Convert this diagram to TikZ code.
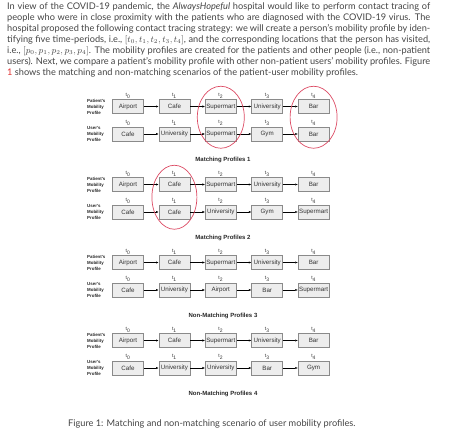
\documentclass[tikz,border=0pt]{standalone}
\usepackage{fontspec}
\setmainfont{Lato}
\newfontfamily\diagfont{Liberation Sans}
\usetikzlibrary{arrows.meta,positioning,calc}
\definecolor{ctext}{HTML}{444444}
\definecolor{chit}{HTML}{DC4A63}
\definecolor{cbox}{HTML}{EDEDED}
\definecolor{cedge}{HTML}{8A8A8A}
\definecolor{cref}{HTML}{E03030}
\tikzset{
  para/.style={anchor=base west, inner sep=0pt, text=ctext, font=\fontsize{9.2}{11}\selectfont},
  loc/.style={draw=cedge, fill=cbox, line width=0.5pt, minimum width=31pt, minimum height=14pt, inner sep=0.5pt, text=black!80, font=\diagfont\fontsize{6.2}{7}\selectfont},
  tlab/.style={inner sep=0pt, text=black!80, font=\diagfont\fontsize{5}{5}\selectfont},
  who/.style={anchor=west, align=left, inner sep=0pt, text=black!85, font=\diagfont\bfseries\fontsize{4.4}{6}\selectfont},
  paneltitle/.style={inner sep=0pt, text=black!85, font=\diagfont\bfseries\fontsize{6}{7}\selectfont},
  flow/.style={-{Latex[length=2.6pt,width=2.2pt]}, line width=0.45pt},
  hit/.style={draw=chit, line width=0.7pt},
}
\newcommand{\locrow}[4]{%
  \node[who] (#1who) at (87,#2+0.5) {#3};
  \foreach \p [count=\i from 0] in {#4}{
    \node[loc] (#1\i) at (128+46.4*\i,#2) {\p};
    \node[tlab, above=1pt of #1\i] (#1t\i) {t\textsubscript{\i}};
  }
  \foreach \i [count=\j] in {0,...,3}{\draw[flow] (#1\i) -- (#1\j);}
}
\begin{document}
\begin{tikzpicture}[x=1pt, y=-1pt]
\useasboundingbox (0,0) rectangle (474,431);
% text above the figure
\node[para] (l1) at (7,9.5) {\makebox[423pt][s]{In view of the COVID-19 pandemic, the \emph{AlwaysHopeful} hospital would like to perform contact tracing of}};
\node[para] (l2) at (7,20.5) {\makebox[423pt][s]{people who were in close proximity with the patients who are diagnosed with the COVID-19 virus. The}};
\node[para] (l3) at (7,31.5) {\makebox[423pt][s]{hospital proposed the following contact tracing strategy: we will create a person's mobility profile by iden-}};
\node[para] (l4) at (7,42.5) {\makebox[423pt][s]{tifying five time-periods, i.e., $[t_0,t_1,t_2,t_3,t_4]$, and the corresponding locations that the person has visited,}};
\node[para] (l5) at (7,53.5) {\makebox[423pt][s]{i.e., $[p_0,p_1,p_2,p_3,p_4]$. The mobility profiles are created for the patients and other people (i.e., non-patient}};
\node[para] (l6) at (7,64.5) {\makebox[423pt][s]{users). Next, we compare a patient's mobility profile with other non-patient users' mobility profiles. Figure}};
\node[para] (l7) at (7,75.5) {{\color{cref}1} shows the matching and non-matching scenarios of the patient-user mobility profiles.};
% the four panels
\locrow{pa}{106.5}{Patient's\\Mobility\\Profile}{Airport,Cafe,Supermart,University,Bar}
\locrow{ua}{134}{User's\\Mobility\\Profile}{Cafe,University,Supermart,Gym,Bar}
\node[paneltitle] (capa) at (223,160) {Matching Profiles 1};
\locrow{pb}{184.5}{Patient's\\Mobility\\Profile}{Airport,Cafe,Supermart,University,Bar}
\locrow{ub}{212}{User's\\Mobility\\Profile}{Cafe,Cafe,University,Gym,Supermart}
\node[paneltitle] (capb) at (223,238) {Matching Profiles 2};
\locrow{pc}{262.5}{Patient's\\Mobility\\Profile}{Airport,Cafe,Supermart,University,Bar}
\locrow{uc}{290}{User's\\Mobility\\Profile}{Cafe,University,Airport,Bar,Supermart}
\node[paneltitle] (capc) at (223,316) {Non-Matching Profiles 3};
\locrow{pd}{340.5}{Patient's\\Mobility\\Profile}{Airport,Cafe,Supermart,University,Bar}
\locrow{ud}{368}{User's\\Mobility\\Profile}{Cafe,University,University,Bar,Gym}
\node[paneltitle] (capd) at (223,394) {Non-Matching Profiles 4};
% matches
\draw[hit] ($(pa2)!.5!(ua2)$) ++(0,-3) ellipse (23.5pt and 31pt);
\draw[hit] ($(pa4)!.5!(ua4)$) ++(0,-3) ellipse (23.5pt and 31pt);
\draw[hit] ($(pb1)!.5!(ub1)$) ++(0,-1) ellipse (22.5pt and 32pt);
\node[para] (figcap) at (68,426.5) {Figure 1: Matching and non-matching scenario of user mobility profiles.};
\end{tikzpicture}
\end{document}
